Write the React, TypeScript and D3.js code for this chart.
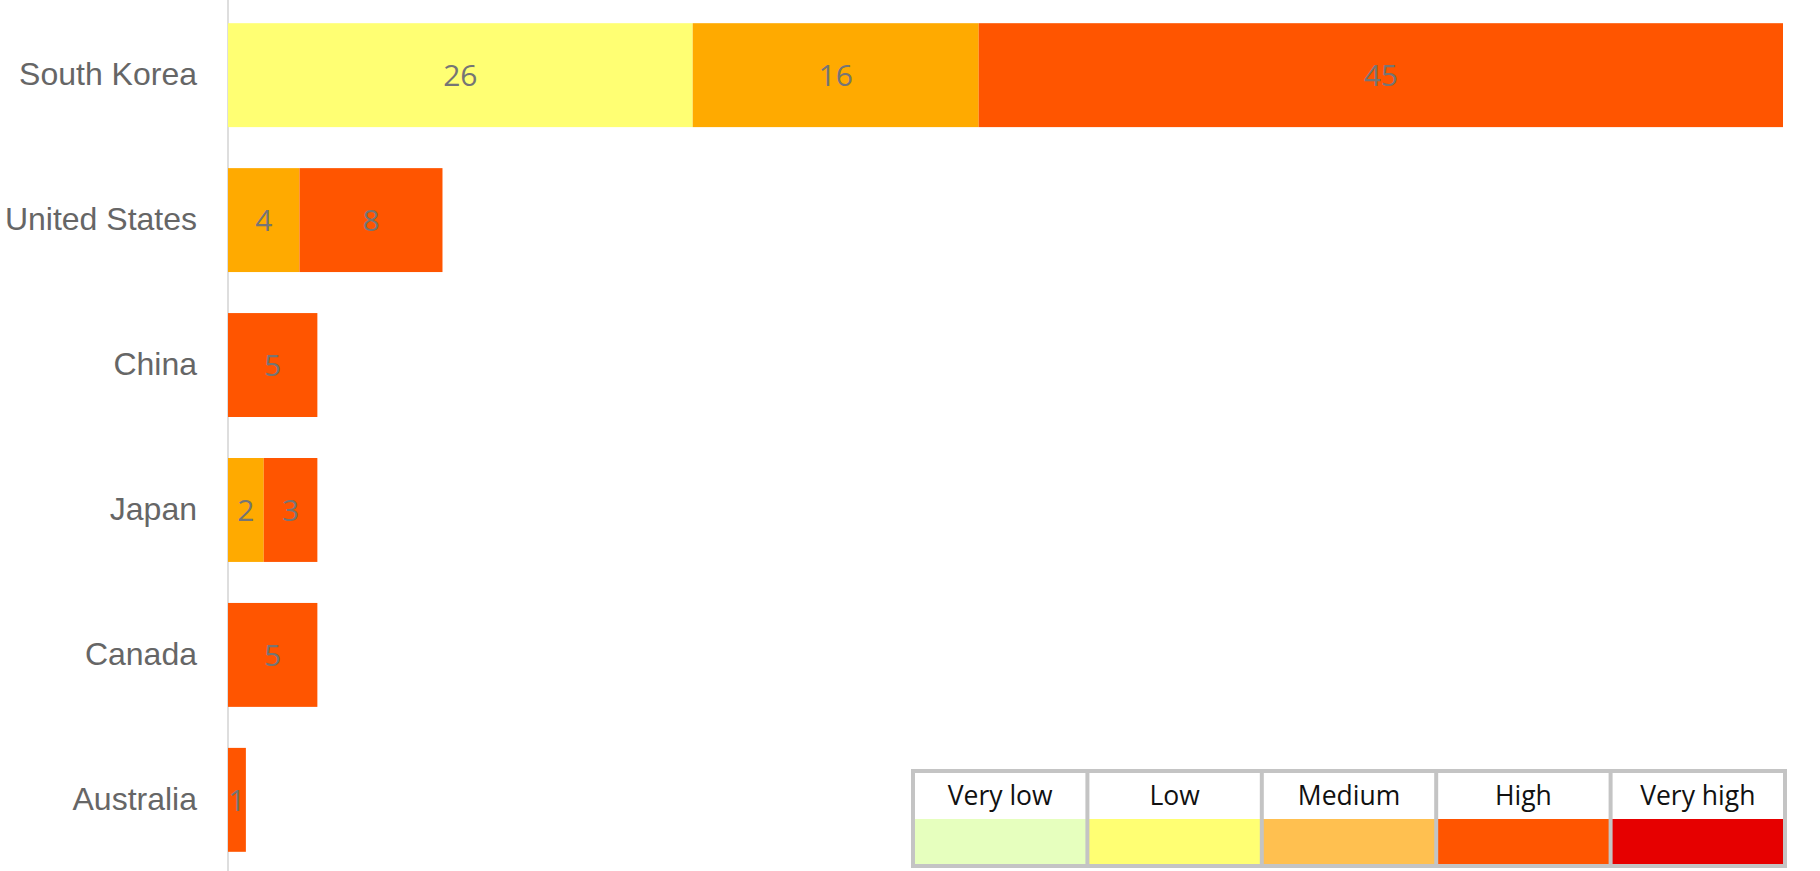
import { useEffect, useRef } from 'react';
import * as d3 from 'd3';

// categories (top to bottom)
const countries = ['South Korea', 'United States', 'China', 'Japan', 'Canada', 'Australia'];

// risk levels, stacked left to right
const levels = ['Very low', 'Low', 'Medium', 'High', 'Very high'];
const barColors = ['#E6FFBE', '#FFFF73', '#FFAA00', '#FF5500', '#E60000'];
const legendColors = ['#E6FFBE', '#FFFF73', '#FFC050', '#FF5500', '#E60000'];

// values per level, same order as countries
const veryLow = [0, 0, 0, 0, 0, 0];
const low = [26, 0, 0, 0, 0, 0];
const medium = [16, 4, 0, 2, 0, 0];
const high = [45, 8, 5, 3, 5, 1];
const veryHigh = [0, 0, 0, 0, 0, 0];

const xMax = 87;

const App = () => {
  const svgRef = useRef<SVGSVGElement>(null);

  useEffect(() => {
    if (!svgRef.current) return;
    d3.select(svgRef.current).selectAll('*').remove();

    const width = 1820;
    const height = 871;
    const left = 228;
    const right = 1783;

    const svg = d3.select(svgRef.current).attr('width', width).attr('height', height);

    const rows = countries.map((c, i) => ({
      country: c,
      'Very low': veryLow[i],
      Low: low[i],
      Medium: medium[i],
      High: high[i],
      'Very high': veryHigh[i],
    }));

    const stack = d3.stack<any>().keys(levels);
    const series = stack(rows);

    const xScale = d3.scaleLinear().domain([0, xMax]).range([left, right]);
    const yScale = d3
      .scaleBand()
      .domain(countries)
      .range([0, 875])
      .paddingInner(0.283)
      .paddingOuter(0.16);

    const color = d3.scaleOrdinal<string, string>().domain(levels).range(barColors);

    // axis line
    svg
      .append('line')
      .attr('x1', left)
      .attr('x2', left)
      .attr('y1', 0)
      .attr('y2', height)
      .attr('stroke', '#dedede')
      .attr('stroke-width', 2);

    // country labels
    const yAxis = d3.axisLeft(yScale).tickSize(0).tickPadding(31);
    svg
      .append('g')
      .attr('transform', `translate(${left},0)`)
      .call(yAxis)
      .call((g) => g.select('.domain').remove())
      .call((g) =>
        g
          .selectAll('.tick text')
          .attr('font-family', 'Arial, "Liberation Sans", sans-serif')
          .attr('font-size', 32)
          .attr('fill', '#666')
      );

    // stacked bars
    const groups = svg
      .selectAll('.layer')
      .data(series)
      .enter()
      .append('g')
      .attr('class', 'layer')
      .attr('fill', (d) => color(d.key));

    groups
      .selectAll('rect')
      .data((d) => d.filter((p) => p[1] - p[0] > 0))
      .enter()
      .append('rect')
      .attr('x', (d) => xScale(d[0]))
      .attr('width', (d) => xScale(d[1]) - xScale(d[0]))
      .attr('y', (d) => yScale(d.data.country)!)
      .attr('height', yScale.bandwidth());

    // data labels
    groups
      .selectAll('text')
      .data((d) => d.filter((p) => p[1] - p[0] > 0))
      .enter()
      .append('text')
      .attr('x', (d) => (xScale(d[0]) + xScale(d[1])) / 2)
      .attr('y', (d) => yScale(d.data.country)! + yScale.bandwidth() / 2)
      .attr('dy', '0.36em')
      .attr('text-anchor', 'middle')
      .attr('font-family', '"Open Sans", sans-serif')
      .attr('font-size', 30)
      .attr('fill', '#757575')
      .text((d) => d[1] - d[0]);

    // legend
    const lx0 = 913;
    const lx1 = 1785;
    const ly0 = 771;
    const ly1 = 866;
    const lMid = 819;
    const lx = d3.scaleBand().domain(levels).range([lx0, lx1]);
    const legend = svg.append('g');

    legend
      .append('rect')
      .attr('x', lx0)
      .attr('y', ly0)
      .attr('width', lx1 - lx0)
      .attr('height', ly1 - ly0)
      .attr('fill', '#fff');

    legend
      .selectAll('.swatch')
      .data(levels)
      .enter()
      .append('rect')
      .attr('class', 'swatch')
      .attr('x', (d) => lx(d)!)
      .attr('y', lMid)
      .attr('width', lx.bandwidth())
      .attr('height', ly1 - lMid)
      .attr('fill', (_, i) => legendColors[i]);

    legend
      .selectAll('.sep')
      .data(levels.slice(1))
      .enter()
      .append('line')
      .attr('class', 'sep')
      .attr('x1', (d) => lx(d)!)
      .attr('x2', (d) => lx(d)!)
      .attr('y1', ly0)
      .attr('y2', ly1)
      .attr('stroke', '#c4c4c4')
      .attr('stroke-width', 4);

    legend
      .append('rect')
      .attr('x', lx0)
      .attr('y', ly0)
      .attr('width', lx1 - lx0)
      .attr('height', ly1 - ly0)
      .attr('fill', 'none')
      .attr('stroke', '#c4c4c4')
      .attr('stroke-width', 4);

    legend
      .selectAll('.ltext')
      .data(levels)
      .enter()
      .append('text')
      .attr('class', 'ltext')
      .attr('x', (d) => lx(d)! + lx.bandwidth() / 2)
      .attr('y', (ly0 + lMid) / 2)
      .attr('dy', '0.36em')
      .attr('text-anchor', 'middle')
      .attr('font-family', '"Open Sans", sans-serif')
      .attr('font-size', 26.5)
      .attr('fill', '#111')
      .text((d) => d);
  }, []);

  return (
    <svg
      ref={svgRef}
      style={{ position: 'absolute', left: 0, top: 0, display: 'block', background: '#fff' }}
    ></svg>
  );
};

export default App;
